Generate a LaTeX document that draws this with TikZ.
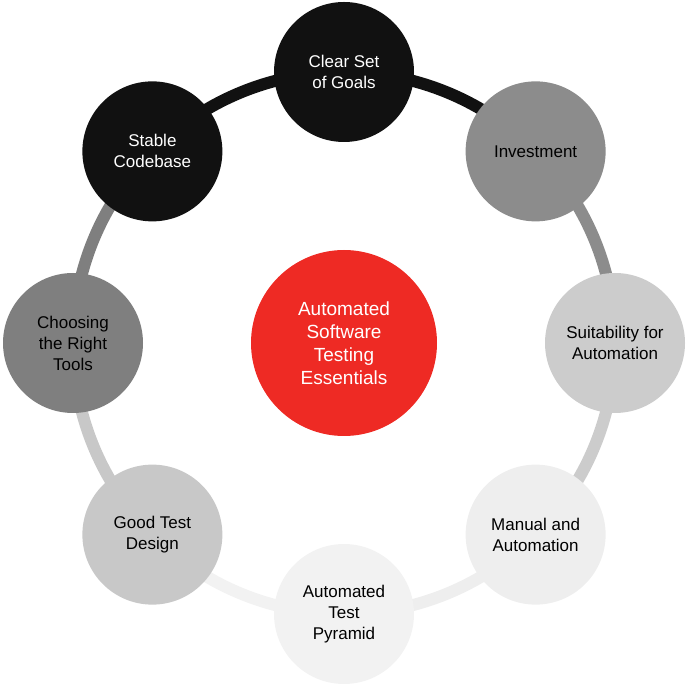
\documentclass[tikz,border=0pt]{standalone}
\usepackage{fontspec}
\setmainfont{Liberation Sans}
\usetikzlibrary{calc}
\begin{document}
\begin{tikzpicture}[x=1pt,y=1pt,
  outer/.style={circle,minimum size=140pt,inner sep=0pt,align=center,font=\fontsize{17}{21}\selectfont},
  ringseg/.style={line width=12pt}]
\useasboundingbox (0,0) rectangle (688,688);
\coordinate (c) at (344,345);
\definecolor{cA}{HTML}{111111}
\definecolor{cB}{HTML}{8C8C8C}
\definecolor{cC}{HTML}{CCCCCC}
\definecolor{cD}{HTML}{EEEEEE}
\definecolor{cE}{HTML}{F2F2F2}
\definecolor{cF}{HTML}{C8C8C8}
\definecolor{cG}{HTML}{7F7F7F}
\definecolor{cR}{HTML}{EE2A24}
% ring segments
\foreach \s/\col in {90/cA,45/cB,0/cC,-45/cD,-90/cE,-135/cF,-180/cG,-225/cA}{
  \draw[ringseg,\col] (c) ++(\s:271) arc[start angle=\s,end angle=\s-45,radius=271];
}
\node[circle,minimum size=186pt,inner sep=0pt,fill=cR,text=white,align=center,font=\fontsize{19}{23}\selectfont] (center) at (c) {Automated\\Software\\Testing\\Essentials};
\node[outer,fill=cA,text=white] (n1) at ($(c)+(90:271)$) {Clear Set\\of Goals};
\node[outer,fill=cB,text=black] (n2) at ($(c)+(45:271)$) {Investment};
\node[outer,fill=cC,text=black] (n3) at ($(c)+(0:271)$) {Suitability for\\Automation};
\node[outer,fill=cD,text=black] (n4) at ($(c)+(-45:271)$) {Manual and\\Automation};
\node[outer,fill=cE,text=black] (n5) at ($(c)+(-90:271)$) {Automated\\Test\\Pyramid};
\node[outer,fill=cF,text=black] (n6) at ($(c)+(-135:271)$) {Good Test\\Design};
\node[outer,fill=cG,text=black] (n7) at ($(c)+(180:271)$) {Choosing\\the Right\\Tools};
\node[outer,fill=cA,text=white] (n8) at ($(c)+(135:271)$) {Stable\\Codebase};
\end{tikzpicture}
\end{document}
